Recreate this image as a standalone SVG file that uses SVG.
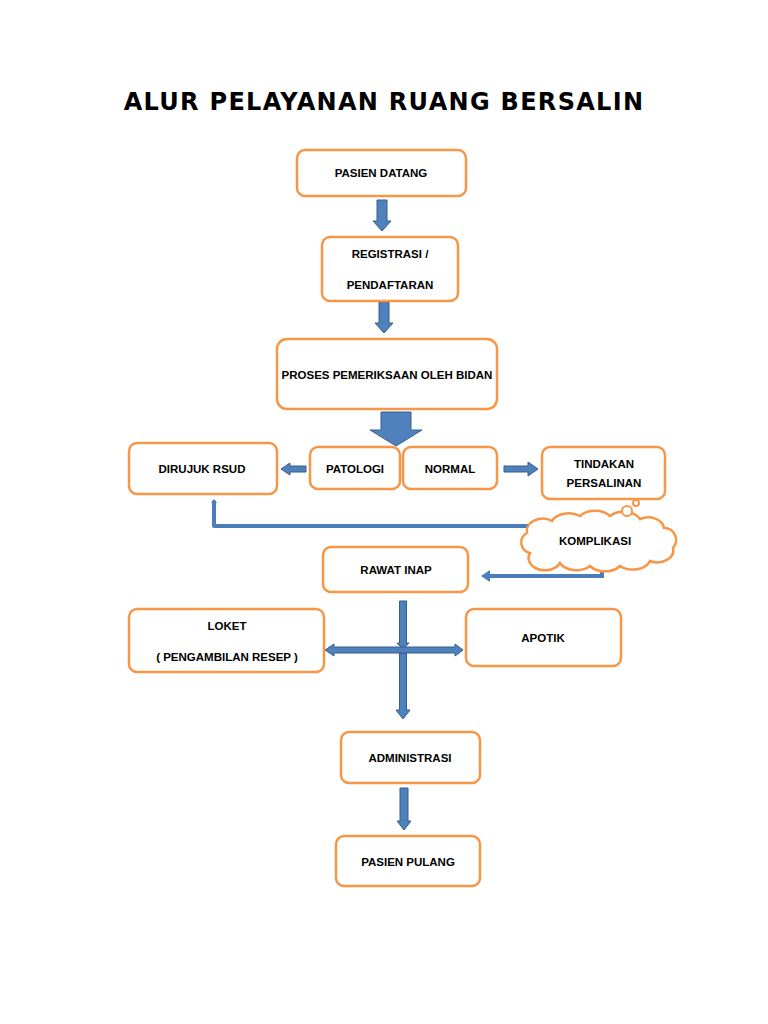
<svg xmlns="http://www.w3.org/2000/svg" width="768" height="1024" viewBox="0 0 768 1024">
<style>
.box{fill:#fff;stroke:#F79646;stroke-width:2.5}
.t{font-family:"Liberation Sans",Arial,sans-serif;font-weight:bold;font-size:11.5px;fill:#000;text-anchor:middle}
.title{font-family:"DejaVu Sans",sans-serif;font-weight:bold;font-size:24px;fill:#000;text-anchor:middle;letter-spacing:1.3px}
.arr{fill:#4F81BD;stroke:#385D8A;stroke-width:1}
.ln{fill:none;stroke:#4A7EBB;stroke-width:4;stroke-linecap:round}
</style>
<rect width="768" height="1024" fill="#fff"/>
<text class="title" x="384" y="110">ALUR PELAYANAN RUANG BERSALIN</text>

<g id="connectors">
<polygon class="arr" points="377,200 387,200 387,221 391,221 382,231 373,221 377,221"/>
<polygon class="arr" points="379,302 389,302 389,323 393,323 384,333 375,323 379,323"/>
<polygon class="arr" points="381,412 411,412 411,430 422,430 396,446 370,430 381,430"/>
<polygon class="arr" points="306,466 290,466 290,463 281,469 290,475 290,472 306,472"/>
<polygon class="arr" points="504,466 528,466 528,462 538,469 528,476 528,472 504,472"/>
<path class="ln" d="M214,526 V502 M214,526 H540"/>
<polygon fill="#4A7EBB" points="211,503 214,499 217,503"/>
<path class="ln" d="M602,568 V576 H489"/>
<polygon fill="#4A7EBB" points="490,570 481,576 490,582"/>
<polygon class="arr" points="399.5,601 406.5,601 406.5,643 409,643 403,649 397,643 399.5,643"/>
<polygon class="arr" points="399.5,653 406.5,653 406.5,710 410,710 403,719 396,710 399.5,710"/>
<polygon class="arr" points="334,647 455,647 455,644 463,650 455,656 455,653 334,653 334,656 325,650 334,644"/>
<polygon class="arr" points="400,788 408,788 408,821 411,821 404,830 397,821 400,821"/>
</g>

<g id="pasien-datang"><rect class="box" x="297" y="150" width="169" height="46" rx="8"/><text class="t" x="381" y="177">PASIEN DATANG</text></g>
<g id="registrasi"><rect class="box" x="322" y="237" width="136" height="64" rx="8"/><text class="t" x="390" y="258">REGISTRASI /</text><text class="t" x="390" y="289">PENDAFTARAN</text></g>
<g id="proses"><rect class="box" x="277" y="339" width="220" height="70" rx="10"/><text class="t" x="387" y="379">PROSES PEMERIKSAAN OLEH BIDAN</text></g>
<g id="dirujuk"><rect class="box" x="129" y="443" width="148" height="51" rx="8"/><text class="t" x="202" y="473">DIRUJUK RSUD</text></g>
<g id="patologi"><rect class="box" x="310" y="447" width="90" height="42" rx="8"/><text class="t" x="355" y="473">PATOLOGI</text></g>
<g id="normal"><rect class="box" x="403" y="447" width="94" height="42" rx="8"/><text class="t" x="450" y="473">NORMAL</text></g>
<g id="tindakan"><rect class="box" x="542" y="447" width="123" height="52" rx="8"/><text class="t" x="604" y="468">TINDAKAN</text><text class="t" x="604" y="487">PERSALINAN</text></g>
<g id="komplikasi">
<path fill="#fff" stroke="#F79646" stroke-width="2.5" d="M530,553 A12,11 0 0 1 527,533 A16,12 0 0 1 552,521 A18,12 0 0 1 580,516 A18,12 0 0 1 610,516 A18,12 0 0 1 640,519 A16,12 0 0 1 664,528 A12,12 0 0 1 673,548 A16,12 0 0 1 650,561 A18,12 0 0 1 620,566 A18,12 0 0 1 590,566 A18,12 0 0 1 560,563 A16,12 0 0 1 530,553 Z"/>
<circle cx="627" cy="511" r="5" fill="#fff" stroke="#F79646" stroke-width="2"/>
<circle cx="636" cy="503" r="3" fill="#fff" stroke="#F79646" stroke-width="2"/>
<text class="t" x="595" y="545">KOMPLIKASI</text>
</g>
<g id="rawat-inap"><rect class="box" x="323" y="547" width="145" height="45" rx="8"/><text class="t" x="396" y="574">RAWAT INAP</text></g>
<g id="loket"><rect class="box" x="129" y="609" width="195" height="63" rx="8"/><text class="t" x="227" y="630">LOKET</text><text class="t" x="227" y="661">( PENGAMBILAN RESEP )</text></g>
<g id="apotik"><rect class="box" x="466" y="609" width="155" height="57" rx="8"/><text class="t" x="543" y="642">APOTIK</text></g>
<g id="administrasi"><rect class="box" x="341" y="732" width="139" height="51" rx="8"/><text class="t" x="410" y="762">ADMINISTRASI</text></g>
<g id="pasien-pulang"><rect class="box" x="336" y="836" width="144" height="50" rx="8"/><text class="t" x="408" y="866">PASIEN PULANG</text></g>
</svg>
